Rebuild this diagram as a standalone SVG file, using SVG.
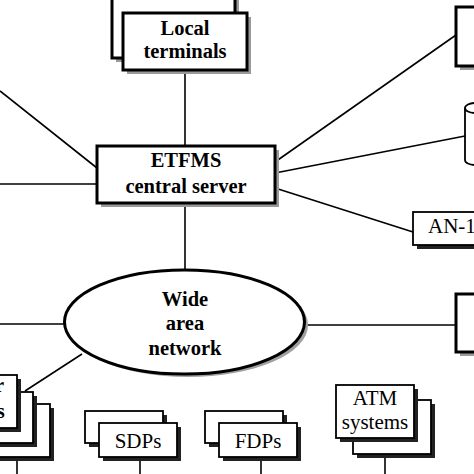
<svg xmlns="http://www.w3.org/2000/svg" width="474" height="474" viewBox="0 0 474 474">
<defs>
<style>
.thick{fill:#fff;stroke:#000;stroke-width:3}
.thin{fill:#fff;stroke:#000;stroke-width:1.8}
.gs{fill:#9a9a9a}
.ds{fill:#222}
.conn line{stroke:#000;stroke-width:1.6}
.b{font-family:"Liberation Serif","Times New Roman",serif;font-weight:bold;font-size:20.5px;text-anchor:middle;fill:#000}
.r{font-family:"Liberation Serif","Times New Roman",serif;font-size:21px;text-anchor:middle;fill:#000}
</style>
</defs>
<rect width="474" height="474" fill="#fff"/>
<g class="conn" id="connectors">
<line x1="185" y1="70" x2="185" y2="146"/>
<line x1="185" y1="203" x2="185" y2="270"/>
<line x1="0" y1="91" x2="97" y2="168"/>
<line x1="0" y1="184" x2="97" y2="184"/>
<line x1="275" y1="162" x2="456" y2="35"/>
<line x1="275" y1="173" x2="465" y2="136"/>
<line x1="275" y1="188" x2="413" y2="232"/>
<line x1="305" y1="325" x2="456" y2="325"/>
<line x1="0" y1="324" x2="64" y2="324"/>
<line x1="82" y1="354" x2="25" y2="391"/>
<line x1="17" y1="457" x2="17" y2="474"/>
<line x1="140" y1="457" x2="140" y2="474"/>
<line x1="261" y1="457" x2="261" y2="474"/>
<line x1="385" y1="454" x2="385" y2="474"/>
</g>
<g id="local-terminals">
<rect class="gs" x="116" y="-4" width="123" height="66"/>
<rect class="thick" x="112" y="-8" width="123" height="66"/>
<rect class="gs" x="127" y="17" width="124" height="57"/>
<rect class="thick" x="123" y="13" width="124" height="57"/>
<text class="b" x="185" y="35">Local</text>
<text class="b" x="185" y="58">terminals</text>
</g>
<g id="etfms">
<rect class="gs" x="101" y="150" width="178" height="57"/>
<rect class="thick" x="97" y="146" width="178" height="57"/>
<text class="b" x="186" y="167">ETFMS</text>
<text class="b" x="186" y="193">central server</text>
</g>
<g id="top-right">
<rect class="gs" x="460" y="11" width="40" height="59"/>
<rect class="thick" x="456" y="7" width="40" height="59"/>
</g>
<g id="database">
<path d="M465,108 L465,160 A10,5 0 0 0 485,160 L485,108" class="thin"/>
<ellipse cx="475" cy="108" rx="10" ry="5" class="thin"/>
</g>
<g id="an1">
<rect class="ds" x="417" y="216" width="80" height="33"/>
<rect class="thin" x="413" y="212" width="80" height="33"/>
<text class="r" x="428" y="233" style="text-anchor:start">AN-1</text>
</g>
<g id="right-mid">
<rect class="gs" x="460" y="298" width="40" height="58"/>
<rect class="thick" x="456" y="294" width="40" height="58"/>
</g>
<g id="wan">
<ellipse cx="188" cy="325" rx="120" ry="52" fill="#a0a0a0"/>
<ellipse cx="184.5" cy="322" rx="120" ry="52" class="thick"/>
<text class="b" x="185" y="306">Wide</text>
<text class="b" x="185" y="330">area</text>
<text class="b" x="185" y="355">network</text>
</g>
<g id="left-boxes">
<rect class="ds" x="-23" y="408" width="77" height="53"/>
<rect class="thin" x="-27" y="404" width="77" height="53"/>
<rect class="ds" x="-40" y="396" width="77" height="51"/>
<rect class="thin" x="-44" y="392" width="77" height="51"/>
<rect class="ds" x="-56" y="379" width="77" height="53"/>
<rect class="thin" x="-60" y="375" width="77" height="53"/>
<text class="b" x="-22" y="392">Other</text>
<text class="b" x="-18" y="418">users</text>
</g>
<g id="sdps">
<rect class="ds" x="89" y="415" width="78" height="32"/>
<rect class="thin" x="85" y="411" width="78" height="32"/>
<rect class="ds" x="103" y="427" width="78" height="34"/>
<rect class="thin" x="99" y="423" width="78" height="34"/>
<text class="r" x="138" y="448">SDPs</text>
</g>
<g id="fdps">
<rect class="ds" x="209" y="415" width="78" height="32"/>
<rect class="thin" x="205" y="411" width="78" height="32"/>
<rect class="ds" x="223" y="427" width="78" height="34"/>
<rect class="thin" x="219" y="423" width="78" height="34"/>
<text class="r" x="258" y="448">FDPs</text>
</g>
<g id="atm">
<rect class="ds" x="357" y="404" width="78" height="54"/>
<rect class="thin" x="353" y="400" width="78" height="54"/>
<rect class="ds" x="340" y="389" width="78" height="53"/>
<rect class="thin" x="336" y="385" width="78" height="53"/>
<text class="r" x="375" y="405">ATM</text>
<text class="r" x="375" y="429">systems</text>
</g>
</svg>
